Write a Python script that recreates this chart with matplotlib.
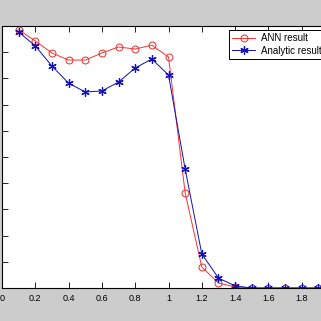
import numpy as np
import matplotlib
matplotlib.use('Agg')
import matplotlib.pyplot as plt

# values
x = [0.1, 0.2, 0.3, 0.4, 0.5, 0.6, 0.7, 0.8, 0.9, 1.0,
     1.1, 1.2, 1.3, 1.4, 1.5, 1.6, 1.7, 1.8, 1.9, 2.0]
ann = [0.985, 0.943, 0.897, 0.870, 0.870, 0.897, 0.920, 0.912, 0.927, 0.882,
       0.363, 0.080, 0.019, 0.004, 0.0, 0.0, 0.0, 0.0, 0.0, 0.0]
analytic = [0.977, 0.924, 0.847, 0.782, 0.748, 0.752, 0.786, 0.840, 0.874, 0.813,
            0.454, 0.130, 0.038, 0.008, 0.0, 0.0, 0.0, 0.0, 0.0, 0.0]
xticks = [0, 0.2, 0.4, 0.6, 0.8, 1, 1.2, 1.4, 1.6, 1.8, 2]
# the "2" label falls outside the cropped picture
xticklabels = ['0', '0.2', '0.4', '0.6', '0.8', '1', '1.2', '1.4', '1.6', '1.8', '']

plt.rcParams['font.family'] = ['Liberation Sans', 'DejaVu Sans']

W, H = 321, 321
fig = plt.figure(figsize=(W / 100, H / 100), dpi=100, facecolor='#cccccc')
# axes runs off the right edge, as in the cropped reference
ax = fig.add_axes([2 / W, 1 - 288 / H, 333 / W, 262 / H])
ax.set_facecolor('white')

ax.plot(x, ann, color='#ff3030', lw=0.7, marker='o', ms=5, mfc='none',
        mec='#e03030', mew=0.7, label='ANN result')
ax.plot(x, analytic, color='#1010b0', lw=0.7, marker=(6, 2, 0), ms=6,
        mec='#1010c0', mew=0.9, label='Analytic result')

ax.set_xlim(0, 2)
ax.set_ylim(0, 1)
ax.set_xticks(xticks)
ax.set_xticklabels(xticklabels)
ax.set_yticks(np.arange(0, 1.01, 0.1))
ax.set_yticklabels([])
ax.tick_params(direction='in', length=4, width=0.6, labelsize=6.5,
               top=True, right=True, pad=4, colors='black')
for s in ax.spines.values():
    s.set_linewidth(0.8)

leg = ax.legend(loc='upper left', bbox_to_anchor=(229 / W, 1 - 30 / H),
                bbox_transform=fig.transFigure, fontsize=7, frameon=True,
                fancybox=False, edgecolor='black', framealpha=1,
                borderpad=0.35, labelspacing=0.25, handlelength=2.3,
                handletextpad=0.6, borderaxespad=0)
leg.get_frame().set_linewidth(0.7)

fig.savefig('out.png', dpi=100, facecolor=fig.get_facecolor())
